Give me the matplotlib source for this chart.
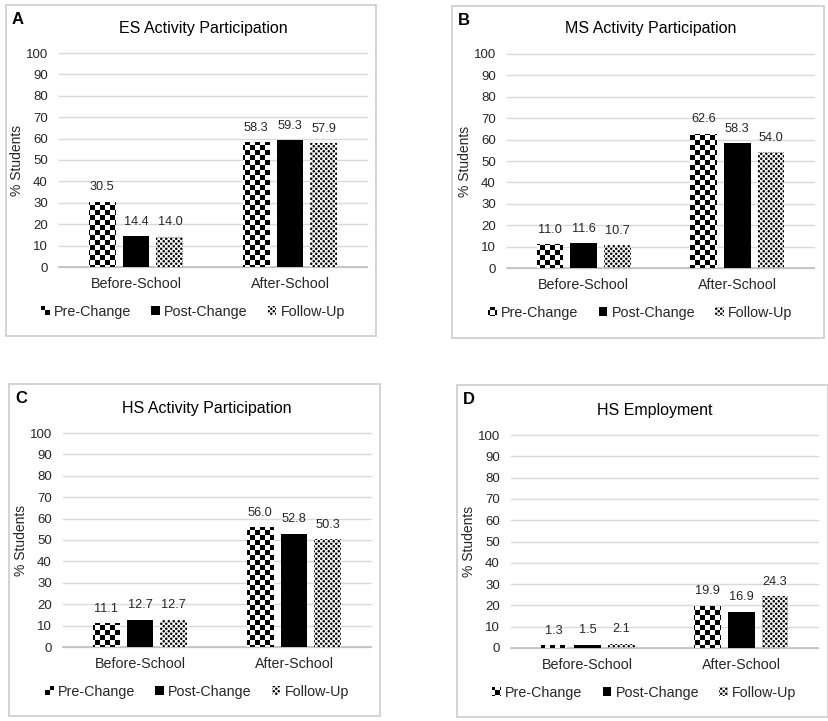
import numpy as np
import matplotlib
matplotlib.use('Agg')
import matplotlib.pyplot as plt
import matplotlib.hatch as mhatch
from matplotlib.path import Path
from matplotlib.patches import Rectangle

# ---------------- data ----------------
categories = ['Before-School', 'After-School']
series_names = ['Pre-Change', 'Post-Change', 'Follow-Up']
panel_letters = ['A', 'B', 'C', 'D']
panel_titles = ['ES Activity Participation', 'MS Activity Participation',
                'HS Activity Participation', 'HS Employment']
pre_change = [[30.5, 58.3], [11.0, 62.6], [11.1, 56.0], [1.3, 19.9]]
post_change = [[14.4, 59.3], [11.6, 58.3], [12.7, 52.8], [1.5, 16.9]]
follow_up = [[14.0, 57.9], [10.7, 54.0], [12.7, 50.3], [2.1, 24.3]]
y_ticks = [0, 10, 20, 30, 40, 50, 60, 70, 80, 90, 100]
y_label = '% Students'


# ---------------- custom hatch patterns ----------------
class Checker(mhatch.HatchPatternBase):
    def __init__(self, hatch, density):
        self.n = 20 if 'O' in hatch else 0
        self.num_vertices = 5 * (self.n * self.n // 2)

    def set_vertices_and_codes(self, vertices, codes):
        n = self.n
        s = 1.0 / n
        k = 0
        for i in range(n):
            for j in range(n):
                if (i + j) % 2 == 0:
                    x0, y0 = i * s, j * s
                    vertices[k:k + 5] = [(x0, y0), (x0 + s, y0), (x0 + s, y0 + s),
                                         (x0, y0 + s), (x0, y0)]
                    codes[k:k + 5] = [Path.MOVETO, Path.LINETO, Path.LINETO,
                                      Path.LINETO, Path.CLOSEPOLY]
                    k += 5


class Dots(mhatch.HatchPatternBase):
    def __init__(self, hatch, density):
        self.n = 20 if 'o' in hatch else 0
        self.circ = Path.unit_circle()
        self.nv = len(self.circ.vertices)
        self.num_vertices = self.nv * self.n * self.n * 2

    def set_vertices_and_codes(self, vertices, codes):
        n = self.n
        s = 1.0 / n
        r = 0.0125
        k = 0
        for i in range(n):
            for j in range(n):
                for (fx, fy) in ((0.25, 0.25), (0.75, 0.75)):
                    cx, cy = (i + fx) * s, (j + fy) * s
                    vertices[k:k + self.nv] = self.circ.vertices * r + [cx, cy]
                    codes[k:k + self.nv] = self.circ.codes
                    k += self.nv


new_types = []
for t in mhatch._hatch_types:
    if t is mhatch.LargeCircles:
        new_types.append(Checker)
    elif t is mhatch.SmallCircles:
        new_types.append(Dots)
    else:
        new_types.append(t)
mhatch._hatch_types = new_types

# ---------------- style ----------------
plt.rcParams['font.family'] = ['Liberation Sans', 'DejaVu Sans']
plt.rcParams['hatch.linewidth'] = 0.01
plt.rcParams['hatch.color'] = 'black'

W, H = 829, 721
fig = plt.figure(figsize=(W / 100, H / 100), dpi=100)
fig.patch.set_facecolor('white')

boxes = [(6, 5, 376, 336), (452, 6, 824, 338), (9, 384, 380, 716), (457, 385, 828, 717)]
axes_px = [(59, 53, 367, 267), (507, 54, 814, 268), (63, 433, 371, 647), (511, 435, 818, 648)]

text_col = '#262626'
bar_w = 0.175
offsets = [-0.22, 0.0, 0.22]
hatches = ['O', None, 'o']
faces = ['white', 'black', 'white']

for p in range(4):
    bx0, by0, bx1, by1 = boxes[p]
    fig.add_artist(Rectangle((bx0 / W, 1 - by1 / H), (bx1 - bx0) / W, (by1 - by0) / H,
                             transform=fig.transFigure, fill=False,
                             edgecolor='#d0d0d0', lw=1.3))
    ax0, ay0, ax1, ay1 = axes_px[p]
    ax = fig.add_axes([ax0 / W, 1 - ay1 / H, (ax1 - ax0) / W, (ay1 - ay0) / H])
    x = np.arange(len(categories))
    data = [pre_change[p], post_change[p], follow_up[p]]
    handles = []
    for s in range(3):
        bars = ax.bar(x + offsets[s], data[s], bar_w, color=faces[s],
                      edgecolor='black', linewidth=0, hatch=hatches[s],
                      label=series_names[s], zorder=3)
        handles.append(bars)
        for xi, v in zip(x + offsets[s], data[s]):
            ax.annotate(f'{v:.1f}', (xi, v), xytext=(0, 10.5),
                        textcoords='offset points', ha='center', va='center',
                        fontsize=9.2, color=text_col)
    ax.set_xlim(-0.5, 1.5)
    ax.set_ylim(0, 100)
    ax.set_yticks(y_ticks)
    ax.set_xticks(x)
    ax.set_xticklabels(categories, fontsize=10.3, color=text_col)
    ax.tick_params(axis='y', length=0, pad=8, labelsize=9.5, labelcolor=text_col)
    ax.tick_params(axis='x', length=0, pad=7)
    for sp in ['top', 'right', 'left']:
        ax.spines[sp].set_visible(False)
    ax.spines['bottom'].set_color('#bfbfbf')
    ax.spines['bottom'].set_linewidth(1.2)
    ax.yaxis.grid(True, color='#d9d9d9', lw=1.0)
    ax.set_axisbelow(True)
    for gl in ax.get_ygridlines():
        gl.set_clip_on(False)

    cx = (ax0 + ax1) / 2
    fig.text((cx - 10) / W, 1 - (ay0 - 25) / H, panel_titles[p], ha='center',
             va='center', fontsize=11.5, color='black')
    fig.text((bx0 + 6) / W, 1 - (by0 + 7) / H, panel_letters[p], ha='left',
             va='top', fontsize=12, fontweight='bold', color='black')
    fig.text((ax0 - 42) / W, 1 - ((ay0 + ay1) / 2) / H, y_label, rotation=90,
             ha='center', va='center', fontsize=10, color=text_col)
    ax.legend(handles=handles, loc='center',
              bbox_to_anchor=((cx - 20) / W, 1 - (ay1 + 45) / H),
              bbox_transform=fig.transFigure, ncol=3, frameon=False,
              fontsize=10.3, handlelength=0.6, handleheight=0.6,
              handletextpad=0.3, columnspacing=1.4, labelcolor=text_col)

fig.savefig('out.png', dpi=100, facecolor='white')
